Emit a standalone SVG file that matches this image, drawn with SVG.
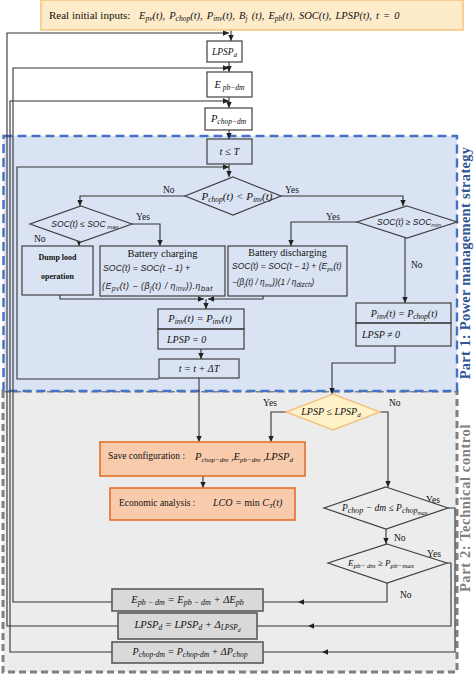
<svg xmlns="http://www.w3.org/2000/svg" width="474" height="674" viewBox="0 0 474 674" font-family="Liberation Serif, serif">
<style>
.t{fill:#111}
.m{font-style:italic;fill:#111}
.s{font-style:italic;fill:#222}
.lbl{font-size:9.5px;fill:#111}
.box{fill:#fff;stroke:#404040;stroke-width:1.2}
.pbox{fill:none;stroke:#404040;stroke-width:1.2}
.gbox{fill:#d9d9d9;stroke:#595959;stroke-width:1.6}
.obox{fill:#f8cbad;stroke:#e0702a;stroke-width:1.6}
.con{fill:none;stroke:#333;stroke-width:1.1}
</style>
<defs>
<marker id="ah" viewBox="0 0 10 10" refX="10" refY="5" markerWidth="6" markerHeight="6" orient="auto" markerUnits="userSpaceOnUse"><path d="M0,0.5 L10,5 L0,9.5 z" fill="#222"/></marker>
</defs>

<!-- regions -->
<g id="regions">
<rect x="3" y="391" width="454" height="281" fill="#ececec" stroke="#808080" stroke-width="3" stroke-dasharray="7,4"/>
<rect x="3.5" y="136" width="453.5" height="255" fill="#dae3f3" stroke="#4472c4" stroke-width="2.4" stroke-dasharray="9,5"/>
<text transform="translate(470,263) rotate(-90)" text-anchor="middle" font-family="Liberation Serif,serif" font-weight="bold" font-size="14.5" letter-spacing="0.3" fill="#2f5597">Part 1: Power management strategy</text>
<text transform="translate(470,508) rotate(-90)" text-anchor="middle" font-family="Liberation Serif,serif" font-weight="bold" font-size="14.5" letter-spacing="0.6" fill="#808080">Part 2: Technical control</text>
</g>

<!-- connectors -->
<g id="connectors">
<path class="con" d="M231,30 V41" marker-end="url(#ah)"/>
<path class="con" d="M118,626 H7 V33 H229" marker-end="url(#ah)"/>
<path class="con" d="M229,62 V72" marker-end="url(#ah)"/>
<path class="con" d="M112,602 H13 V68 H229" marker-end="url(#ah)"/>
<path class="con" d="M229,97 V108" marker-end="url(#ah)"/>
<path class="con" d="M112,652 H10 V101 H229" marker-end="url(#ah)"/>
<path class="con" d="M229,130 V139" marker-end="url(#ah)"/>
<path class="con" d="M229,164 V177" marker-end="url(#ah)"/>
<path class="con" d="M159,379 H17 V167 H229" marker-end="url(#ah)"/>
<path class="con" d="M185,196 H80 V206" marker-end="url(#ah)"/>
<path class="con" d="M280,196 H403 V206" marker-end="url(#ah)"/>
<path class="con" d="M132,224 H160 V246" marker-end="url(#ah)"/>
<path class="con" d="M79,241 V246" marker-end="url(#ah)"/>
<path class="con" d="M357,222 H291 V246" marker-end="url(#ah)"/>
<path class="con" d="M405,238 V303" marker-end="url(#ah)"/>
<path class="con" d="M60,295 V299 H204" marker-end="url(#ah)"/>
<path class="con" d="M263,296 V299 H208" marker-end="url(#ah)"/>
<path class="con" d="M206,299 V309" marker-end="url(#ah)"/>
<path class="con" d="M201,349 V359" marker-end="url(#ah)"/>
<path class="con" d="M199,378 V442" marker-end="url(#ah)"/>
<path class="con" d="M395,346 V363 H332 V394" marker-end="url(#ah)"/>
<path class="con" d="M287,412 H271 V442" marker-end="url(#ah)"/>
<path class="con" d="M380,412 H388 V487" marker-end="url(#ah)"/>
<path class="con" d="M203,476 V488" marker-end="url(#ah)"/>
<path class="con" d="M386,529 V544" marker-end="url(#ah)"/>
<path class="con" d="M448,508 H455 V652 H322" marker-end="url(#ah)"/>
<path class="con" d="M322,652 H263"/>
<path class="con" d="M447,563 H451 V626 H308" marker-end="url(#ah)"/>
<path class="con" d="M308,626 H257"/>
<path class="con" d="M387,583 V602 H298" marker-end="url(#ah)"/>
<path class="con" d="M298,602 H263"/>
</g>

<!-- labels on connectors -->
<g id="labels">
<text class="lbl" x="163" y="193">No</text>
<text class="lbl" x="285" y="193">Yes</text>
<text class="lbl" x="136" y="220">Yes</text>
<text class="lbl" x="34" y="242">No</text>
<text class="lbl" x="326" y="220">Yes</text>
<text class="lbl" x="411" y="268">No</text>
<text class="lbl" x="263" y="406">Yes</text>
<text class="lbl" x="389" y="406">No</text>
<text class="lbl" x="426" y="503">Yes</text>
<text class="lbl" x="394" y="541">No</text>
<text class="lbl" x="427" y="557">Yes</text>
<text class="lbl" x="400" y="598">No</text>
</g>

<!-- nodes -->
<g id="inputs">
<rect x="41" y="0" width="422" height="30" fill="#fdebc9" stroke="#f4bf72" stroke-width="1.4"/>
<text class="t" x="49" y="19" font-size="11">Real initial inputs:</text>
<text class="m" x="139" y="19" font-size="10.5" word-spacing="1.5">E<tspan font-size="7.5" dy="2">pv</tspan><tspan dy="-2">(t), P</tspan><tspan font-size="7.5" dy="2">chop</tspan><tspan dy="-2">(t), P</tspan><tspan font-size="7.5" dy="2">inv</tspan><tspan dy="-2">(t), B</tspan><tspan font-size="7.5" dy="2">j</tspan><tspan dy="-2"> (t), E</tspan><tspan font-size="7.5" dy="2">pb</tspan><tspan dy="-2">(t), SOC(t), LPSP(t), t = 0</tspan></text>
</g>

<g id="lpspd">
<rect class="box" x="207" y="41" width="35" height="21"/>
<text class="m" x="224.5" y="55" font-size="9.5" text-anchor="middle">LPSP<tspan font-size="7" dy="2">d</tspan></text>
</g>
<g id="epbdm">
<rect class="box" x="207" y="72" width="45" height="25"/>
<text class="m" x="229.5" y="88" font-size="10.5" text-anchor="middle">E<tspan font-size="7.5" dy="2"> pb−dm</tspan></text>
</g>
<g id="pchopdm">
<rect class="box" x="205" y="108" width="47" height="22"/>
<text class="m" x="228.5" y="122" font-size="10.5" text-anchor="middle">P<tspan font-size="7.5" dy="2">chop−dm</tspan></text>
</g>

<g id="tleT">
<rect class="pbox" x="207" y="139" width="45" height="25"/>
<text class="m" x="229.5" y="155" font-size="10.5" text-anchor="middle">t ≤ T</text>
</g>

<g id="d_pchop">
<polygon points="233,177 281,196 233,215 185,196" fill="#dae3f3" stroke="#404040" stroke-width="1.2"/>
<text class="m" x="237" y="200" font-size="11" text-anchor="middle">P<tspan font-size="7.5" dy="2">chop</tspan><tspan dy="-2">(t) &lt; P</tspan><tspan font-size="7.5" dy="2">inv</tspan><tspan dy="-2">(t)</tspan></text>
</g>

<g id="d_socmax">
<polygon points="81,206 132,224 81,242 30,224" fill="#dae3f3" stroke="#404040" stroke-width="1.2"/>
<text class="s" font-family="Liberation Sans, sans-serif" x="85" y="227" font-size="8.5" text-anchor="middle">SOC(t) ≤ SOC<tspan font-size="6" dy="2"> max</tspan></text>
</g>

<g id="d_socmin">
<polygon points="407,206 457,222 407,238 357,222" fill="#dae3f3" stroke="#404040" stroke-width="1.2"/>
<text class="s" font-family="Liberation Sans, sans-serif" x="409" y="225" font-size="8.5" text-anchor="middle">SOC(t) ≥ SOC<tspan font-size="6" dy="2">min</tspan></text>
</g>

<g id="dump">
<rect class="pbox" x="22" y="246" width="71" height="49"/>
<text class="t" x="57.5" y="260" font-size="8" text-anchor="middle" font-weight="bold">Dump lood</text>
<text class="t" x="57.5" y="279" font-size="8" text-anchor="middle" font-weight="bold">operation</text>
</g>

<g id="charging">
<rect class="pbox" x="100" y="246" width="125" height="50"/>
<text class="t" x="162.5" y="257" font-size="10.5" text-anchor="middle">Battery charging</text>
<text class="s" font-family="Liberation Sans, sans-serif" x="103" y="271" font-size="8.8">SOC(t) = SOC(t − 1) +</text>
<text class="s" font-family="Liberation Sans, sans-serif" x="102" y="289" font-size="8.8" letter-spacing="0.5">(E<tspan font-size="6.5" dy="2">pv</tspan><tspan dy="-2">(t) − (β</tspan><tspan font-size="6.5" dy="2">j</tspan><tspan dy="-2">(t) / η</tspan><tspan font-size="6.5" dy="2">inv</tspan><tspan dy="-2">)).η</tspan><tspan font-size="7.5" dy="2">bat</tspan></text>
</g>

<g id="discharging">
<rect class="pbox" x="228" y="246" width="119" height="50"/>
<text class="t" x="287.5" y="256" font-size="10" text-anchor="middle">Battery discharging</text>
<text class="s" font-family="Liberation Sans, sans-serif" x="232" y="269" font-size="8.5">SOC(t) = SOC(t − 1) + (E<tspan font-size="6" dy="2">pv</tspan><tspan dy="-2">(t)</tspan></text>
<text class="s" font-family="Liberation Sans, sans-serif" x="232" y="285" font-size="8.2">−(β<tspan font-size="6" dy="2">j</tspan><tspan dy="-2">(t) / η</tspan><tspan font-size="6" dy="2">inv</tspan><tspan dy="-2">))(1 / η</tspan><tspan font-size="6.5" dy="2">dizch</tspan><tspan dy="-2">)</tspan></text>
</g>

<g id="pinv_eq">
<rect class="pbox" x="158" y="309" width="86" height="20"/>
<rect class="pbox" x="158" y="329" width="86" height="20"/>
<text class="m" x="200" y="322" font-size="10.5" text-anchor="middle">P<tspan font-size="7.5" dy="2">inv</tspan><tspan dy="-2">(t) = P</tspan><tspan font-size="7.5" dy="2">inv</tspan><tspan dy="-2">(t)</tspan></text>
<text class="m" x="167" y="343" font-size="10">LPSP = 0</text>
</g>

<g id="tinc">
<rect class="pbox" x="159" y="359" width="80" height="19"/>
<text class="m" x="199" y="372" font-size="10" text-anchor="middle">t = t + ΔT</text>
</g>

<g id="pinv_chop">
<rect class="pbox" x="356" y="303" width="95" height="20"/>
<rect class="pbox" x="356" y="323" width="95" height="23"/>
<text class="m" x="404" y="317" font-size="10" text-anchor="middle">P<tspan font-size="7.5" dy="2">inv</tspan><tspan dy="-2">(t) = P</tspan><tspan font-size="7.5" dy="2">chop</tspan><tspan dy="-2">(t)</tspan></text>
<text class="m" x="362" y="338" font-size="10">LPSP ≠ 0</text>
</g>

<g id="d_lpsp">
<polygon points="333,394 380,412 333,430 286,412" fill="#fff2c9" stroke="#f4c07e" stroke-width="1.4"/>
<text class="m" x="331" y="415" font-size="10" text-anchor="middle">LPSP ≤ LPSP<tspan font-size="7" dy="2">d</tspan></text>
</g>

<g id="save">
<rect class="obox" x="100" y="442" width="205" height="34"/>
<text class="t" x="108" y="459" font-size="9.5">Save configuration :</text>
<text class="m" x="195" y="460" font-size="10.5">P<tspan font-size="7" dy="2">chop−dm</tspan><tspan dy="-2"> ,E</tspan><tspan font-size="7" dy="2">pb−dm</tspan><tspan dy="-2"> ,LPSP</tspan><tspan font-size="7" dy="2">d</tspan></text>
</g>

<g id="econ">
<rect class="obox" x="110" y="488" width="185" height="32"/>
<text class="t" x="119" y="506" font-size="9.5">Economic analysis :</text>
<text class="m" x="213" y="506" font-size="10">LCO = <tspan font-style="normal">min</tspan> C<tspan font-size="7" dy="2">T</tspan><tspan dy="-2">(t)</tspan></text>
</g>

<g id="d_pchopmax">
<polygon points="386,487 448,508 386,529 324,508" fill="#ececec" stroke="#404040" stroke-width="1.2"/>
<text class="m" x="342" y="511" font-size="9.5">P<tspan font-size="8" dy="2">chop</tspan><tspan dy="-2"> − dm ≤ P</tspan><tspan font-size="8" dy="2">chop</tspan><tspan font-size="6" dy="2">max</tspan></text>
</g>

<g id="d_epbmax">
<polygon points="387,544 447,563 387,583 328,563" fill="#ececec" stroke="#404040" stroke-width="1.2"/>
<text class="m" x="348" y="566" font-size="9">E<tspan font-size="7" dy="2">pb− dm</tspan><tspan dy="-2"> ≥ P</tspan><tspan font-size="7" dy="2">pb−max</tspan></text>
</g>

<g id="upd_epb">
<rect class="gbox" x="112" y="589" width="151" height="22"/>
<text class="m" x="187.5" y="603" font-size="10.5" text-anchor="middle">E<tspan font-size="8" dy="2">pb − dm</tspan><tspan dy="-2"> = E</tspan><tspan font-size="8" dy="2">pb − dm</tspan><tspan dy="-2"> + ΔE</tspan><tspan font-size="8" dy="2">pb</tspan></text>
</g>

<g id="upd_lpsp">
<rect class="gbox" x="118" y="613" width="139" height="26"/>
<text class="m" x="187.5" y="628" font-size="10.5" text-anchor="middle">LPSP<tspan font-size="7.5" dy="2">d</tspan><tspan dy="-2"> = LPSP</tspan><tspan font-size="7.5" dy="2">d</tspan><tspan dy="-2"> + Δ</tspan><tspan font-size="7.5" dy="2">LPSP</tspan><tspan font-size="5.5" dy="1.5">d</tspan></text>
</g>

<g id="upd_pchop">
<rect class="gbox" x="112" y="642" width="151" height="21"/>
<text class="m" x="190" y="655" font-size="10" text-anchor="middle">P<tspan font-size="7.5" dy="2">chop-dm</tspan><tspan dy="-2"> = P</tspan><tspan font-size="7.5" dy="2">chop-dm</tspan><tspan dy="-2"> + ΔP</tspan><tspan font-size="7.5" dy="2">chop</tspan></text>
</g>
</svg>
